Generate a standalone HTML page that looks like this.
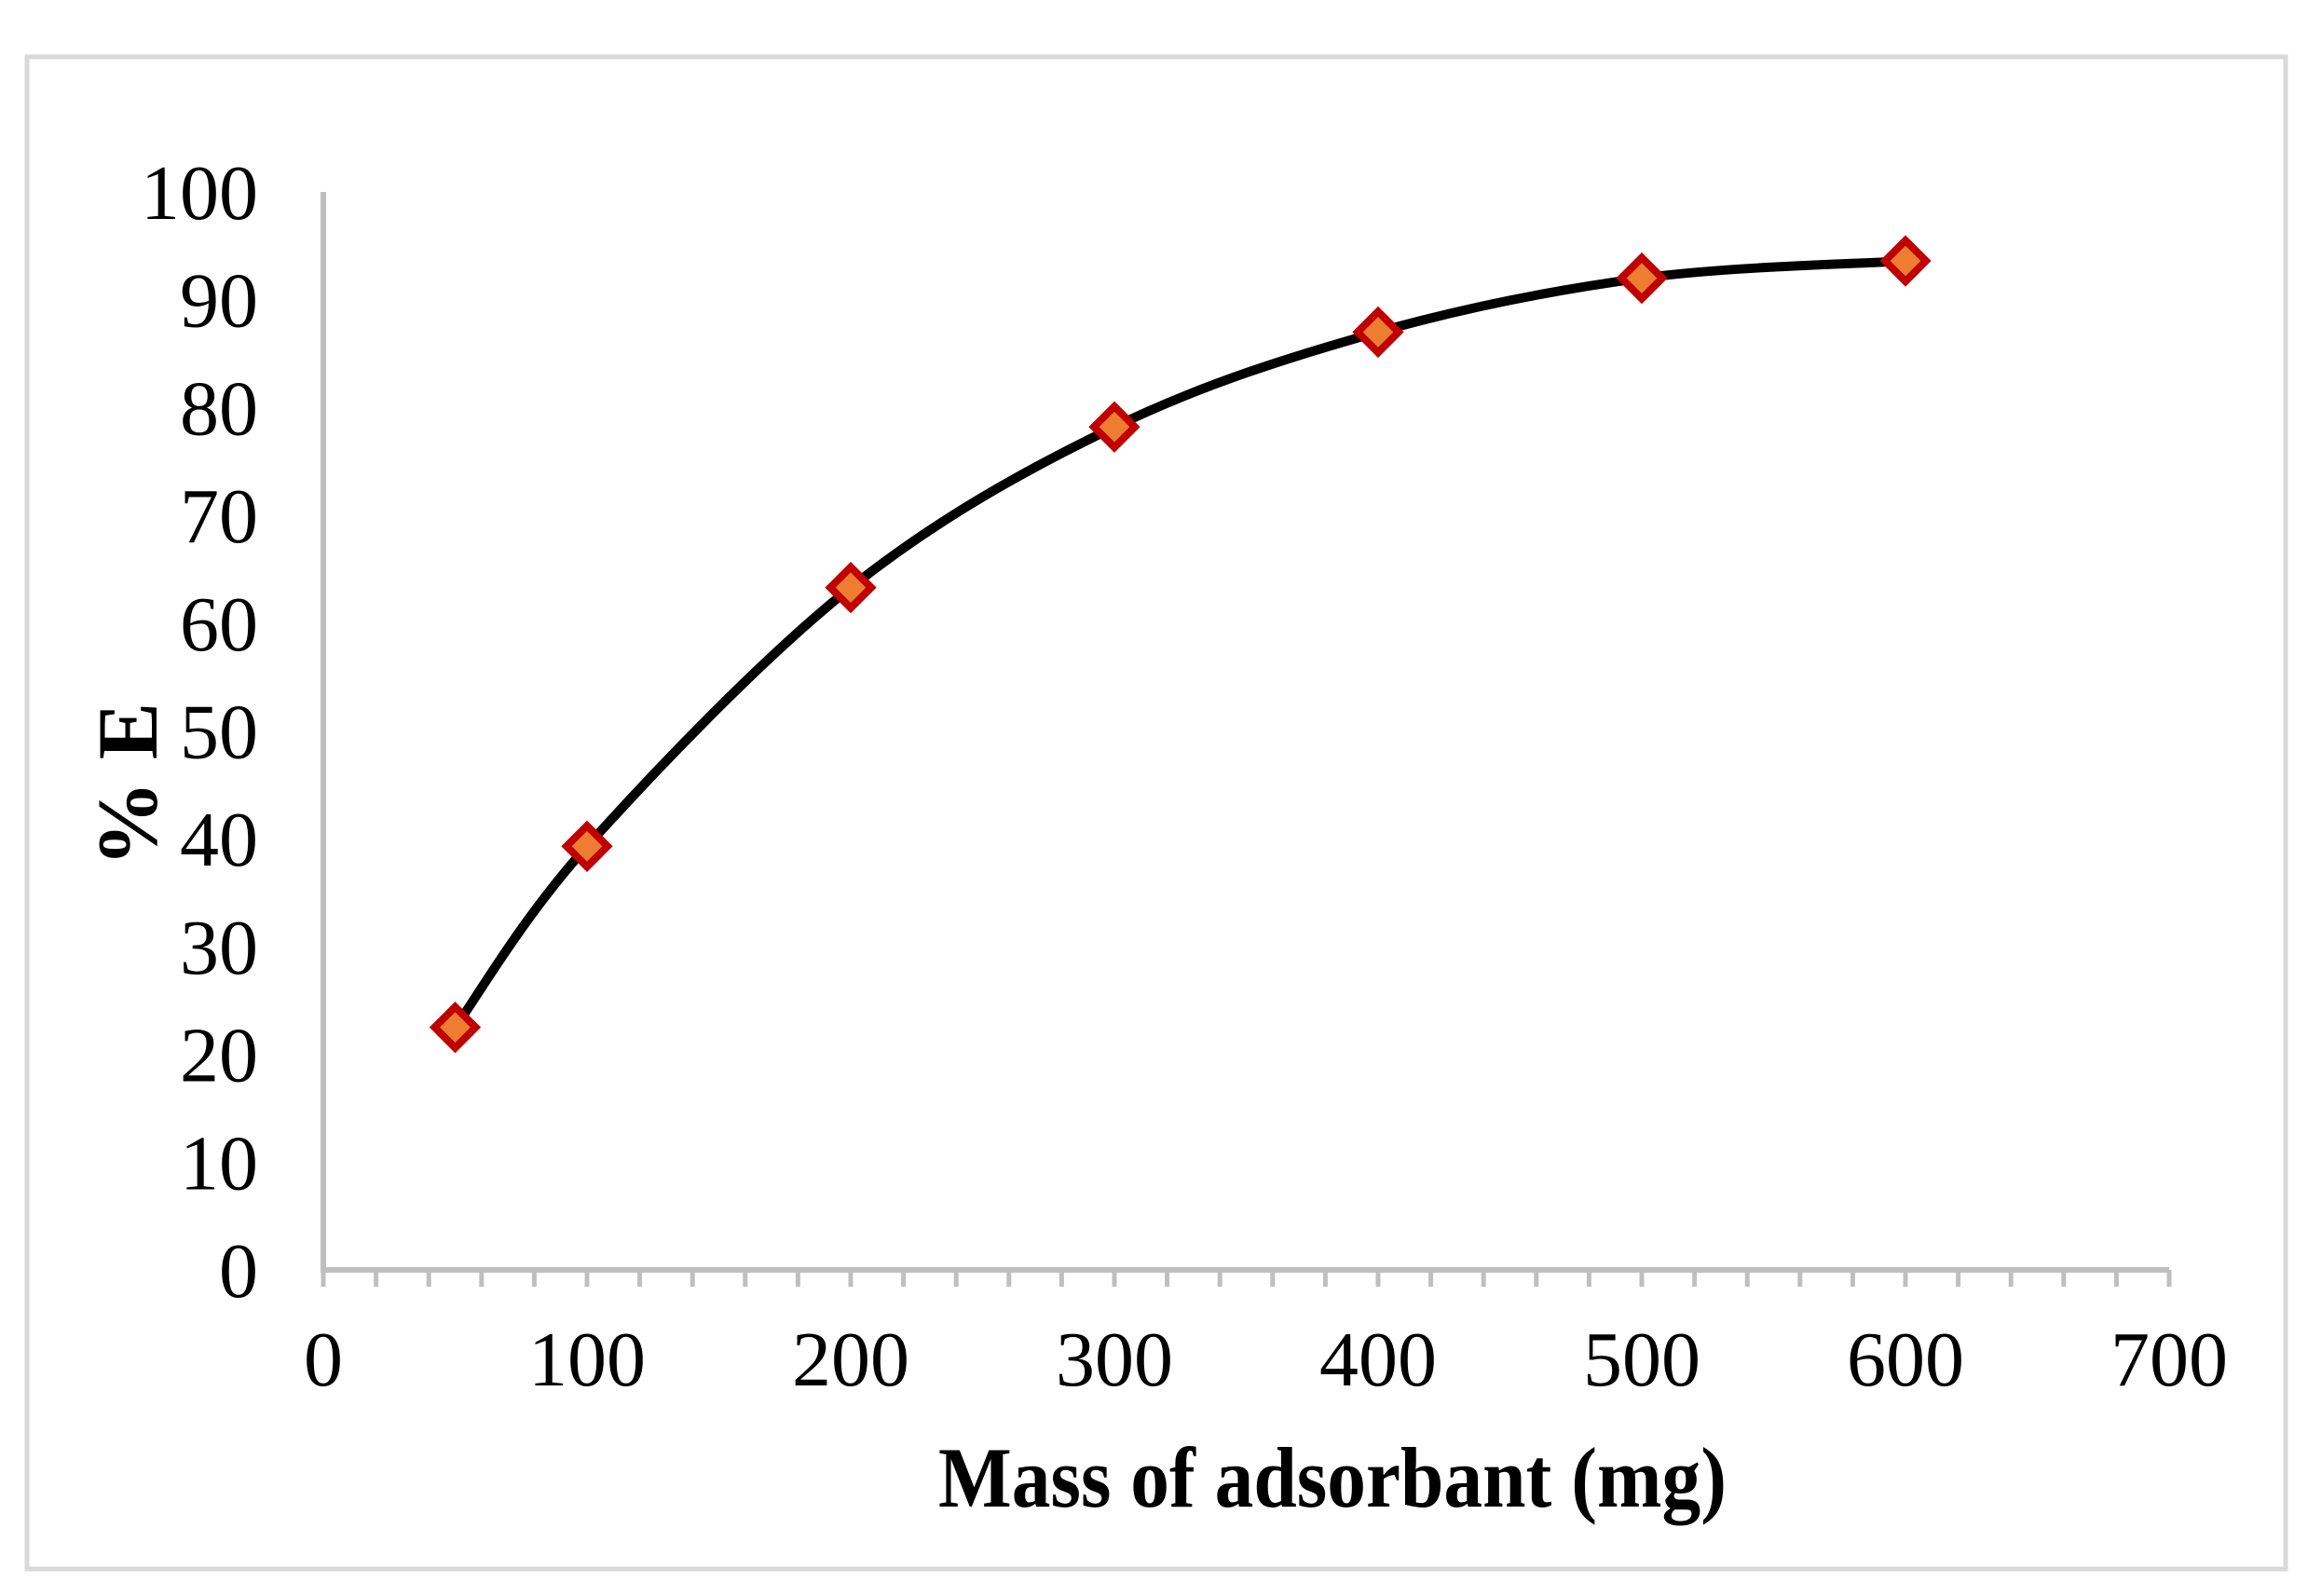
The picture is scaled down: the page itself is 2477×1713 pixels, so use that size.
<!DOCTYPE html>
<html><head><meta charset="utf-8"><style>
html,body{margin:0;padding:0;background:#fff;}
svg{display:block;}
text{font-family:"Liberation Serif",serif;fill:#000;}
</style></head><body>
<svg id="chart" width="2477" height="1713" viewBox="0 0 2477 1713" xmlns="http://www.w3.org/2000/svg">
<rect x="29" y="61" width="2424" height="1623" fill="#fff" stroke="#d9d9d9" stroke-width="5"/>
<g id="axes"></g>
<g id="series"></g>
<text x="1430" y="1617" font-size="92" font-weight="bold" text-anchor="middle" textLength="846" lengthAdjust="spacingAndGlyphs">Mass of adsorbant (mg)</text>
<text transform="translate(168,842) rotate(-90)" font-size="92" font-weight="bold" text-anchor="middle">% E</text>
</svg>
<script>
const xValues = [50, 100, 200, 300, 400, 500, 600];
const yValues = [22.5, 39.3, 63.3, 78.2, 87.0, 92.0, 93.6];
const xTicks = [0, 100, 200, 300, 400, 500, 600, 700];
const yTicks = [0, 10, 20, 30, 40, 50, 60, 70, 80, 90, 100];

const X0 = 347, XPX = 2.83, Y0 = 1363, YPX = 11.57;
function sx(v){ return X0 + v * XPX; }
function sy(v){ return Y0 - v * YPX; }
const NS = "http://www.w3.org/2000/svg";
function mk(tag, attrs, parent){ const e = document.createElementNS(NS, tag); for (const k in attrs) e.setAttribute(k, attrs[k]); parent.appendChild(e); return e; }

const axes = document.getElementById('axes');
const yl = mk('line', {x1: sx(0), y1: sy(100), x2: sx(0), y2: sy(0), stroke: '#bfbfbf', 'stroke-width': 6}, axes);


const xl = mk('line', {x1: sx(0) - 3, y1: sy(0), x2: sx(700), y2: sy(0), stroke: '#bfbfbf', 'stroke-width': 6}, axes);


for (let v = 0; v <= 700; v += 20) {
  const t = mk('line', {x1: sx(v), y1: sy(0), x2: sx(v), y2: sy(0) + 18, stroke: '#bfbfbf', 'stroke-width': 5}, axes);
  
  
}
xTicks.forEach(v => {
  const t = mk('text', {x: sx(v), y: 1487, 'font-size': 84, 'text-anchor': 'middle'}, axes);
  t.textContent = v;
  
  
});
yTicks.forEach(v => {
  const t = mk('text', {x: 277, y: sy(v) + 29, 'font-size': 84, 'text-anchor': 'end'}, axes);
  t.textContent = v;
  
  
});

const series = document.getElementById('series');
const pts = xValues.map((x, i) => [sx(x), sy(yValues[i])]);
let d = 'M' + pts[0][0] + ',' + pts[0][1];
for (let i = 0; i < pts.length - 1; i++) {
  const p0 = pts[i - 1] || pts[i], p1 = pts[i], p2 = pts[i + 1], p3 = pts[i + 2] || p2;
  const t = 1 / 6;
  const c1 = [p1[0] + (p2[0] - p0[0]) * t, p1[1] + (p2[1] - p0[1]) * t];
  const c2 = [p2[0] - (p3[0] - p1[0]) * t, p2[1] - (p3[1] - p1[1]) * t];
  d += ' C' + c1 + ' ' + c2 + ' ' + p2;
}
const line = mk('path', {d: d, fill: 'none', stroke: '#000', 'stroke-width': 10, 'stroke-linejoin': 'round'}, series);


pts.forEach(p => {
  const r = 22;
  const m = mk('polygon', {points: `${p[0]},${p[1]-r} ${p[0]+r},${p[1]} ${p[0]},${p[1]+r} ${p[0]-r},${p[1]}`, fill: '#ed7d31', stroke: '#c00000', 'stroke-width': 8, 'stroke-linejoin': 'miter'}, series);
  
  
});
</script>
</body></html>
